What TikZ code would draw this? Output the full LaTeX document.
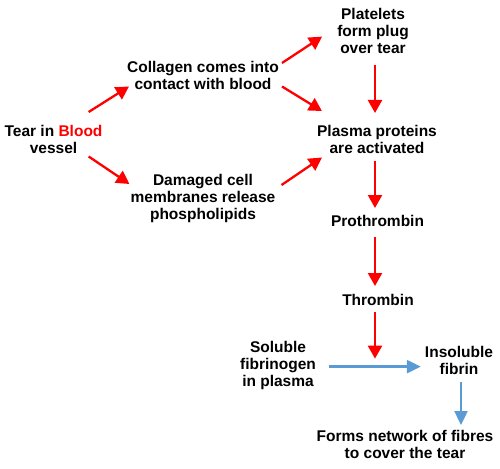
\documentclass[tikz,border=0pt]{standalone}
\usepackage{fontspec}
\setmainfont{Liberation Sans}
\usepackage{tikz}
\usetikzlibrary{arrows.meta}

\definecolor{fibreblue}{RGB}{91,155,213}

\tikzset{
  lbl/.style={font=\fontsize{15.5}{17}\selectfont\bfseries, align=center,
    inner sep=0pt, anchor=north},
  redarrow/.style={draw=red, line width=2.3pt,
    -{Triangle[length=13pt,width=14pt]}, red},
  bluearrow/.style={draw=fibreblue, line width=2.4pt,
    -{Triangle[length=14pt,width=13pt]}, fibreblue}
}

\begin{document}
\begin{tikzpicture}[x=1pt,y=-1pt]
      \useasboundingbox (0,0) rectangle (500,468);
      % text boxes
      \node[lbl] (tear) at (53.5,124.7) {Tear in {\color{red}Blood}\\vessel};
      \node[lbl] (collagen) at (203,60.7) {Collagen comes into\\contact with blood};
      \node[lbl] (damaged) at (203,173.7) {Damaged cell\\membranes release\\phospholipids};
      \node[lbl] (platelets) at (373,7.7) {Platelets\\form plug\\over tear};
      \node[lbl] (plasma) at (377,124.7) {Plasma proteins\\are activated};
      \node[lbl] (prothrombin) at (377.5,214.7) {Prothrombin};
      \node[lbl] (thrombin) at (378,293.7) {Thrombin};
      \node[lbl] (soluble) at (278,340.7) {Soluble\\fibrinogen\\in plasma};
      \node[lbl] (insoluble) at (459,345.7) {Insoluble\\fibrin};
      \node[lbl] (forms) at (405,429.7) {Forms network of fibres\\to cover the tear};
      % red arrows
      \draw[redarrow] ([shift={(-14,-12.7)}]tear.north east) -- ([shift={(2,-3)}]collagen.south west);
      \draw[redarrow] ([shift={(-14,3)}]tear.south east) -- ([shift={(-1,10.3)}]damaged.north west);
      \draw[redarrow] ([shift={(3,2.3)}]collagen.north east) -- ([shift={(-15,6)}]platelets.west);
      \draw[redarrow] ([shift={(3,-3)}]collagen.south east) -- ([shift={(5,-13.7)}]plasma.north west);
      \draw[redarrow] ([shift={(6,11.3)}]damaged.north east) -- ([shift={(5,4)}]plasma.south west);
      \draw[redarrow, shorten <=12pt, shorten >=11.7pt] ([xshift=-2pt]plasma.north |- platelets.south) -- ([xshift=-2pt]plasma.north);
      \draw[redarrow, shorten <=8pt, shorten >=6.7pt] ([xshift=-2pt]plasma.south) -- ([xshift=-2pt]plasma.south |- prothrombin.north);
      \draw[redarrow, shorten <=11pt, shorten >=7.7pt] ([xshift=-2pt]plasma.south |- prothrombin.south) -- ([xshift=-2pt]plasma.south |- thrombin.north);
      % blue arrows
      \draw[bluearrow] ([shift={(13,1.5)}]soluble.east) -- coordinate[pos=0.5] (meet) ([shift={(-4,1.5)}]soluble.east -| insoluble.west);
      \draw[redarrow, shorten <=7pt, shorten >=8pt] ([xshift=-2pt]plasma.south |- thrombin.south) -- ([xshift=-2pt]plasma.south |- meet);
      \draw[bluearrow, shorten <=8pt, shorten >=4.7pt] ([xshift=2pt]insoluble.south) -- ([xshift=2pt]insoluble.south |- forms.north);
    \end{tikzpicture}
\end{document}
